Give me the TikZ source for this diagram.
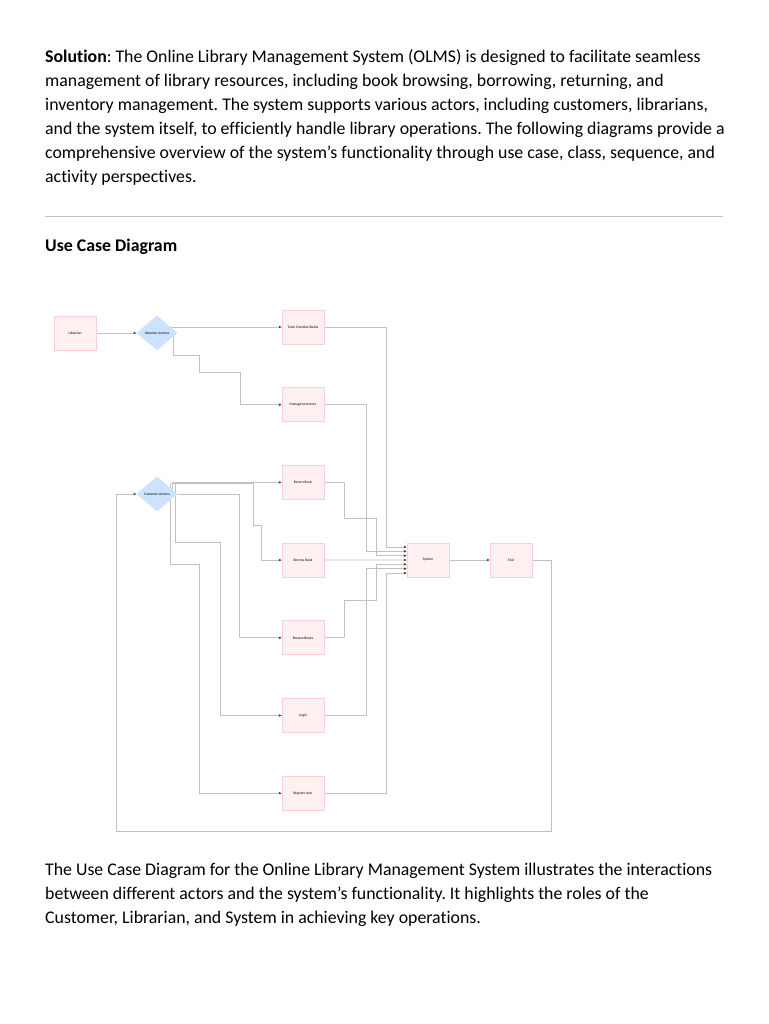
\documentclass[tikz,border=0pt]{standalone}
\usepackage{fontspec}
\setmainfont{Carlito}[Ligatures={TeX,NoCommon}]
\usepackage{xcolor}
\usetikzlibrary{arrows.meta, shapes.geometric, positioning, backgrounds}

\definecolor{boxfill}{HTML}{FFF0F1}
\definecolor{boxline}{HTML}{FBCFD6}
\definecolor{diafill}{HTML}{CCE2FF}
\definecolor{wire}{HTML}{C2C2C2}
\definecolor{tip}{HTML}{333333}
\frenchspacing

\begin{document}
\begin{tikzpicture}[
      x=1pt, y=-1pt,
      node distance=77.7pt,
      bodytext/.style={anchor=west, inner sep=0pt, font=\fontsize{17.8}{24}\selectfont},
      usecase/.style={draw=boxline, line width=0.8pt, fill=boxfill, minimum width=42pt, minimum height=34pt, inner sep=0pt, font=\fontsize{3.6}{4}\selectfont},
      decision/.style={diamond, fill=diafill, aspect=1.15, minimum width=41pt, minimum height=35pt, inner sep=0pt, font=\fontsize{3.6}{4}\selectfont},
      link/.style={draw=wire, line width=0.8pt, -{Stealth[length=3pt, width=2.6pt, color=tip]}}
    ]
      \useasboundingbox (0,0) rectangle (768,1024);

      % page text
      \foreach \txt [count=\i] in {
          {\textbf{Solution}: The Online Library Management System (OLMS) is designed to facilitate seamless},
          {management of library resources, including book browsing, borrowing, returning, and},
          {inventory management. The system supports various actors, including customers, librarians,},
          {and the system itself, to efficiently handle library operations. The following diagrams provide a},
          {comprehensive overview of the system's functionality through use case, class, sequence, and},
          {activity perspectives.}}
        \node[bodytext] (intro\i) at (45, 34+24*\i) {\txt};
      \draw[wire, line width=1pt] (45,217) coordinate (ruleL) -- (723,217) coordinate (ruleR);
      \node[bodytext] (heading) at (45,247) {\textbf{Use Case Diagram}};
      \foreach \txt [count=\i] in {
          {The Use Case Diagram for the Online Library Management System illustrates the interactions},
          {between different actors and the system's functionality. It highlights the roles of the},
          {Customer, Librarian, and System in achieving key operations.}}
        \node[bodytext] (outro\i) at (45, 847+24*\i) {\txt};

      % actors and use cases
      \node[usecase] (librarian) at (75,333) {Librarian};
      \node[decision] (libact) at (157,333) {Librarian Actions};
      \node[decision] (custact) at (157,494) {Customer Actions};
      \node[usecase] (track) at (303,327) {Track Overdue Books};
      \node[usecase, below of=track] (manage) {Manage Inventory};
      \node[usecase, below of=manage] (return) {Return Book};
      \node[usecase, below of=return] (borrow) {Borrow Book};
      \node[usecase, below of=borrow] (browse) {Browse Books};
      \node[usecase, below of=browse] (login) {Login};
      \node[usecase, below of=login] (register) {Register User};
      \node[usecase] (system) at (428,560) {System};
      \node[usecase, right of=system, node distance=83pt] (end) {End};

      \begin{scope}[on background layer]
      \draw[link] (librarian) -- (libact);
      \draw[link] (libact.center |- track.west) -- (track.west);
      \draw[link] ([xshift=16pt]libact.center) -- ++(0,22) -- ++(26,0) -- ++(0,17) -- ++(41,0) |- (manage.west);

      \draw[link] ([xshift=15pt]custact.center) |- (return.west);
      \draw[link] ([xshift=15pt, yshift=11pt]custact.center) -- ++(81,0) -- ++(0,42) -- ++(8,0) |- (borrow.west);
      \draw[link] (custact.east) -- ++(62,0) |- (browse.west);
      \draw[link] ([xshift=18pt, yshift=11pt]custact.center) -- ++(0,59) -- ++(45,0) |- (login.west);
      \draw[link] ([xshift=13pt, yshift=11pt]custact.center) -- ++(0,81) -- ++(29,0) |- (register.west);

      \draw[link] (track.east) -- ++(62,0) |- ([yshift=13pt]system.west);
      \draw[link] (manage.east) -- ++(42,0) |- ([yshift=8.7pt]system.west);
      \draw[link] (return.east) -- ++(20,0) -- ++(0,36) -- ++(32,0) |- ([yshift=4.3pt]system.west);
      \draw[link] (borrow) -- (system);
      \draw[link] (browse.east) -- ++(20,0) -- ++(0,-37) -- ++(32,0) |- ([yshift=-4.3pt]system.west);
      \draw[link] (login.east) -- ++(42,0) |- ([yshift=-8.7pt]system.west);
      \draw[link] (register.east) -- ++(62,0) |- ([yshift=-13pt]system.west);

      \draw[link] (system) -- (end);
      \draw[link] (end.east) -- ++(19,0) -- ++(0,271) -| ([xshift=-20pt]custact.west) -- (custact.west);
      \end{scope}
    \end{tikzpicture}
\end{document}
